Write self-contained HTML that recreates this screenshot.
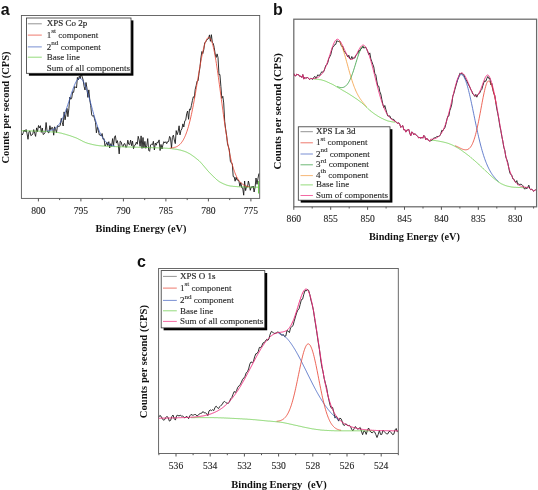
<!DOCTYPE html>
<html><head><meta charset="utf-8"><title>XPS spectra</title>
<style>
html,body{margin:0;padding:0;background:#fff}
svg{display:block;font-family:"Liberation Serif",serif}
</style></head><body>
<svg width="538" height="490" viewBox="0 0 538 490">
<defs>
<clipPath id="ca"><rect x="21.4" y="15.5" width="238.3" height="182.9"/></clipPath>
<clipPath id="cb"><rect x="293.8" y="19.2" width="242.8" height="187.6"/></clipPath>
<clipPath id="cc"><rect x="158.6" y="268.5" width="239.7" height="185.0"/></clipPath>
</defs>
<rect width="538" height="490" fill="#fff"/>
<rect x="21.4" y="15.5" width="238.3" height="182.9" fill="none" stroke="#5a5a5a" stroke-width="0.9"/>
<g clip-path="url(#ca)">
<path d="M21.4,133.8 L22.3,135.0 L23.3,132.6 L24.2,130.0 L25.2,131.8 L26.1,129.5 L27.1,133.9 L28.0,139.3 L29.0,131.6 L29.9,131.0 L30.9,135.7 L31.8,135.1 L32.8,134.0 L33.7,129.6 L34.7,133.4 L35.6,136.4 L36.6,127.9 L37.5,131.6 L38.5,125.5 L39.4,128.0 L40.4,125.7 L41.3,132.4 L42.3,128.0 L43.2,134.5 L44.2,133.9 L45.1,132.4 L46.1,122.5 L47.0,130.6 L48.0,132.4 L48.9,132.9 L49.9,125.7 L50.8,129.8 L51.8,127.4 L52.7,127.7 L53.7,135.2 L54.6,126.8 L55.6,129.5 L56.5,132.6 L57.5,125.6 L58.4,126.6 L59.4,126.4 L60.3,125.1 L61.3,118.4 L62.2,122.3 L63.2,126.0 L64.1,111.9 L65.1,119.8 L66.0,114.3 L67.0,108.4 L67.9,116.7 L68.9,108.5 L69.8,97.1 L70.8,99.3 L71.7,98.2 L72.7,91.8 L73.6,92.4 L74.6,86.5 L75.5,87.0 L76.5,88.0 L77.4,77.4 L78.4,79.8 L79.3,76.2 L80.3,78.5 L81.2,73.3 L82.2,76.8 L83.1,79.9 L84.1,86.5 L85.0,90.0 L86.0,82.5 L86.9,87.9 L87.9,97.4 L88.8,89.9 L89.8,100.1 L90.7,105.4 L91.7,114.9 L92.6,116.2 L93.6,115.5 L94.5,118.7 L95.5,122.4 L96.4,132.8 L97.4,127.2 L98.3,130.1 L99.3,134.9 L100.2,134.8 L101.2,136.0 L102.1,133.5 L103.1,139.3 L104.0,138.5 L105.0,146.0 L105.9,144.6 L106.9,142.3 L107.8,145.6 L108.8,141.7 L109.7,147.9 L110.7,143.7 L111.6,146.3 L112.6,138.6 L113.5,145.6 L114.5,137.1 L115.4,135.7 L116.4,143.1 L117.3,140.6 L118.3,145.1 L119.2,153.9 L120.2,141.0 L121.1,141.9 L122.1,145.4 L123.0,146.6 L124.0,143.8 L124.9,143.7 L125.9,147.5 L126.8,146.7 L127.8,140.2 L128.7,144.2 L129.7,144.7 L130.6,140.1 L131.6,145.7 L132.5,141.0 L133.5,148.7 L134.4,145.4 L135.4,145.0 L136.3,142.2 L137.3,144.2 L138.2,136.3 L139.2,140.0 L140.1,146.3 L141.1,135.9 L142.0,148.4 L143.0,137.5 L143.9,148.1 L144.9,141.4 L145.8,148.3 L146.8,145.6 L147.7,138.6 L148.7,150.4 L149.6,151.3 L150.6,145.0 L151.5,144.1 L152.5,144.7 L153.4,141.3 L154.4,150.0 L155.3,143.1 L156.3,145.2 L157.2,142.1 L158.2,142.7 L159.1,139.9 L160.1,150.5 L161.0,144.5 L162.0,149.0 L162.9,144.9 L163.9,141.7 L164.8,142.9 L165.8,141.7 L166.7,143.7 L167.7,141.6 L168.6,141.5 L169.6,136.4 L170.5,138.2 L171.5,147.9 L172.4,137.4 L173.4,135.1 L174.3,140.0 L175.3,143.6 L176.2,130.6 L177.2,134.7 L178.1,131.8 L179.1,125.8 L180.0,134.9 L181.0,130.2 L181.9,129.0 L182.9,123.9 L183.8,127.0 L184.8,120.8 L185.7,120.2 L186.7,113.8 L187.6,111.0 L188.6,119.3 L189.5,109.1 L190.5,109.8 L191.4,105.5 L192.4,100.6 L193.3,96.8 L194.3,97.6 L195.2,89.4 L196.2,85.4 L197.1,81.1 L198.1,80.8 L199.0,73.4 L200.0,66.9 L200.9,57.9 L201.9,51.5 L202.8,53.6 L203.8,49.5 L204.7,42.9 L205.7,41.9 L206.6,40.4 L207.6,39.1 L208.5,38.6 L209.5,34.9 L210.4,41.3 L211.4,34.7 L212.3,42.3 L213.3,43.5 L214.2,47.5 L215.2,54.1 L216.1,57.5 L217.1,53.9 L218.0,57.6 L219.0,74.9 L219.9,74.5 L220.9,86.5 L221.8,98.3 L222.8,96.3 L223.7,102.9 L224.7,121.3 L225.6,128.7 L226.6,135.3 L227.5,143.9 L228.5,146.9 L229.4,150.3 L230.4,161.4 L231.3,162.8 L232.3,164.0 L233.2,176.5 L234.2,176.9 L235.1,181.2 L236.1,177.2 L237.0,180.1 L238.0,179.8 L238.9,181.1 L239.9,186.3 L240.8,182.6 L241.8,187.8 L242.7,187.9 L243.7,195.2 L244.6,181.0 L245.6,190.6 L246.5,186.6 L247.5,187.0 L248.4,181.0 L249.4,185.2 L250.3,190.3 L251.3,186.8 L252.2,187.5 L253.2,186.0 L254.1,192.0 L255.1,187.1 L256.0,178.0 L257.0,184.3 L257.9,178.9 L258.9,173.5" fill="none" stroke="#1a1a1a" stroke-width="0.9" stroke-linejoin="round"/>
<path d="M21.4,130.8 L21.9,130.8 L22.4,130.8 L22.9,130.8 L23.4,130.8 L23.9,130.8 L24.4,130.8 L24.9,130.8 L25.4,130.8 L25.9,130.8 L26.4,130.8 L26.9,130.9 L27.4,130.9 L27.9,130.9 L28.4,130.9 L28.9,130.9 L29.4,130.9 L29.9,130.9 L30.4,130.9 L30.9,130.9 L31.4,130.9 L31.9,131.0 L32.4,131.0 L32.9,131.0 L33.4,131.0 L33.9,131.0 L34.4,131.0 L34.9,131.0 L35.4,131.1 L35.9,131.1 L36.4,131.1 L36.9,131.1 L37.4,131.1 L37.9,131.1 L38.4,131.1 L38.9,131.2 L39.4,131.2 L39.9,131.2 L40.4,131.2 L40.9,131.2 L41.4,131.2 L41.9,131.3 L42.4,131.3 L42.9,131.3 L43.4,131.3 L43.9,131.4 L44.4,131.4 L44.9,131.4 L45.4,131.4 L45.9,131.5 L46.4,131.5 L46.9,131.5 L47.4,131.6 L47.9,131.6 L48.4,131.6 L48.9,131.7 L49.4,131.7 L49.9,131.7 L50.4,131.8 L50.9,131.8 L51.4,131.9 L51.9,131.9 L52.4,131.9 L52.9,132.0 L53.4,132.0 L53.9,132.1 L54.4,132.1 L54.9,132.2 L55.4,132.2 L55.9,132.3 L56.4,132.3 L56.9,132.4 L57.4,132.5 L57.9,132.5 L58.4,132.6 L58.9,132.7 L59.4,132.8 L59.9,132.9 L60.4,133.0 L60.9,133.1 L61.4,133.2 L61.9,133.3 L62.4,133.5 L62.9,133.6 L63.4,133.8 L63.9,133.9 L64.4,134.0 L64.9,134.2 L65.4,134.3 L65.9,134.5 L66.4,134.6 L66.9,134.8 L67.4,134.9 L67.9,135.1 L68.4,135.2 L68.9,135.4 L69.4,135.5 L69.9,135.7 L70.4,135.8 L70.9,136.0 L71.4,136.2 L71.9,136.4 L72.4,136.5 L72.9,136.7 L73.4,136.9 L73.9,137.1 L74.4,137.3 L74.9,137.4 L75.4,137.6 L75.9,137.8 L76.4,138.0 L76.9,138.3 L77.4,138.5 L77.9,138.7 L78.4,139.0 L78.9,139.2 L79.4,139.5 L79.9,139.8 L80.4,140.0 L80.9,140.3 L81.4,140.5 L81.9,140.8 L82.4,141.1 L82.9,141.3 L83.4,141.6 L83.9,141.8 L84.4,142.0 L84.9,142.2 L85.4,142.5 L85.9,142.7 L86.4,142.8 L86.9,143.0 L87.4,143.2 L87.9,143.3 L88.4,143.5 L88.9,143.6 L89.4,143.7 L89.9,143.9 L90.4,144.0 L90.9,144.1 L91.4,144.2 L91.9,144.4 L92.4,144.5 L92.9,144.6 L93.4,144.7 L93.9,144.8 L94.4,144.9 L94.9,145.0 L95.4,145.1 L95.9,145.2 L96.4,145.3 L96.9,145.4 L97.4,145.4 L97.9,145.5 L98.4,145.6 L98.9,145.6 L99.4,145.7 L99.9,145.8 L100.4,145.8 L100.9,145.8 L101.4,145.9 L101.9,145.9 L102.4,146.0 L102.9,146.0 L103.4,146.0 L103.9,146.1 L104.4,146.1 L104.9,146.1 L105.4,146.2 L105.9,146.2 L106.4,146.2 L106.9,146.2 L107.4,146.3 L107.9,146.3 L108.4,146.3 L108.9,146.3 L109.4,146.4 L109.9,146.4 L110.4,146.4 L110.9,146.4 L111.4,146.5 L111.9,146.5 L112.4,146.5 L112.9,146.5 L113.4,146.5 L113.9,146.6 L114.4,146.6 L114.9,146.6 L115.4,146.6 L115.9,146.6 L116.4,146.7 L116.9,146.7 L117.4,146.7 L117.9,146.7 L118.4,146.7 L118.9,146.7 L119.4,146.7 L119.9,146.8 L120.4,146.8 L120.9,146.8 L121.4,146.8 L121.9,146.8 L122.4,146.8 L122.9,146.8 L123.4,146.9 L123.9,146.9 L124.4,146.9 L124.9,146.9 L125.4,146.9 L125.9,146.9 L126.4,146.9 L126.9,146.9 L127.4,147.0 L127.9,147.0 L128.4,147.0 L128.9,147.0 L129.4,147.0 L129.9,147.0 L130.4,147.0 L130.9,147.0 L131.4,147.1 L131.9,147.1 L132.4,147.1 L132.9,147.1 L133.4,147.1 L133.9,147.1 L134.4,147.1 L134.9,147.2 L135.4,147.2 L135.9,147.2 L136.4,147.2 L136.9,147.2 L137.4,147.2 L137.9,147.2 L138.4,147.3 L138.9,147.3 L139.4,147.3 L139.9,147.3 L140.4,147.3 L140.9,147.3 L141.4,147.3 L141.9,147.4 L142.4,147.4 L142.9,147.4 L143.4,147.4 L143.9,147.4 L144.4,147.4 L144.9,147.4 L145.4,147.5 L145.9,147.5 L146.4,147.5 L146.9,147.5 L147.4,147.5 L147.9,147.5 L148.4,147.5 L148.9,147.6 L149.4,147.6 L149.9,147.6 L150.4,147.6 L150.9,147.6 L151.4,147.6 L151.9,147.7 L152.4,147.7 L152.9,147.7 L153.4,147.7 L153.9,147.7 L154.4,147.7 L154.9,147.8 L155.4,147.8 L155.9,147.8 L156.4,147.8 L156.9,147.8 L157.4,147.8 L157.9,147.9 L158.4,147.9 L158.9,147.9 L159.4,147.9 L159.9,147.9 L160.4,147.9 L160.9,148.0 L161.4,148.0 L161.9,148.0 L162.4,148.0 L162.9,148.0 L163.4,148.1 L163.9,148.1 L164.4,148.1 L164.9,148.1 L165.4,148.2 L165.9,148.2 L166.4,148.2 L166.9,148.3 L167.4,148.3 L167.9,148.3 L168.4,148.4 L168.9,148.4 L169.4,148.4 L169.9,148.5 L170.4,148.5 L170.9,148.6 L171.4,148.6 L171.9,148.7 L172.4,148.8 L172.9,148.8 L173.4,148.9 L173.9,148.9 L174.4,149.0 L174.9,149.1 L175.4,149.2 L175.9,149.2 L176.4,149.3 L176.9,149.4 L177.4,149.5 L177.9,149.6 L178.4,149.7 L178.9,149.8 L179.4,149.9 L179.9,150.0 L180.4,150.1 L180.9,150.2 L181.4,150.4 L181.9,150.5 L182.4,150.7 L182.9,150.8 L183.4,151.0 L183.9,151.1 L184.4,151.3 L184.9,151.5 L185.4,151.7 L185.9,151.9 L186.4,152.1 L186.9,152.3 L187.4,152.6 L187.9,152.8 L188.4,153.1 L188.9,153.4 L189.4,153.6 L189.9,153.9 L190.4,154.2 L190.9,154.6 L191.4,154.9 L191.9,155.2 L192.4,155.6 L192.9,155.9 L193.4,156.3 L193.9,156.6 L194.4,157.0 L194.9,157.4 L195.4,157.8 L195.9,158.2 L196.4,158.6 L196.9,159.0 L197.4,159.4 L197.9,159.8 L198.4,160.2 L198.9,160.6 L199.4,161.1 L199.9,161.6 L200.4,162.1 L200.9,162.7 L201.4,163.2 L201.9,163.8 L202.4,164.4 L202.9,164.9 L203.4,165.5 L203.9,166.1 L204.4,166.7 L204.9,167.3 L205.4,167.9 L205.9,168.5 L206.4,169.1 L206.9,169.7 L207.4,170.3 L207.9,170.9 L208.4,171.4 L208.9,172.0 L209.4,172.5 L209.9,173.0 L210.4,173.5 L210.9,174.0 L211.4,174.5 L211.9,175.0 L212.4,175.5 L212.9,176.0 L213.4,176.5 L213.9,177.0 L214.4,177.5 L214.9,178.0 L215.4,178.4 L215.9,178.9 L216.4,179.4 L216.9,179.8 L217.4,180.2 L217.9,180.6 L218.4,181.0 L218.9,181.3 L219.4,181.7 L219.9,182.0 L220.4,182.3 L220.9,182.5 L221.4,182.8 L221.9,183.0 L222.4,183.3 L222.9,183.5 L223.4,183.8 L223.9,184.0 L224.4,184.2 L224.9,184.4 L225.4,184.6 L225.9,184.8 L226.4,185.0 L226.9,185.2 L227.4,185.3 L227.9,185.5 L228.4,185.6 L228.9,185.7 L229.4,185.8 L229.9,185.9 L230.4,186.0 L230.9,186.1 L231.4,186.1 L231.9,186.2 L232.4,186.2 L232.9,186.3 L233.4,186.4 L233.9,186.4 L234.4,186.4 L234.9,186.5 L235.4,186.5 L235.9,186.6 L236.4,186.6 L236.9,186.6 L237.4,186.7 L237.9,186.7 L238.4,186.7 L238.9,186.8 L239.4,186.8 L239.9,186.8 L240.4,186.8 L240.9,186.8 L241.4,186.9 L241.9,186.9 L242.4,186.9 L242.9,186.9 L243.4,186.9 L243.9,187.0 L244.4,187.0 L244.9,187.0 L245.4,187.0 L245.9,187.0 L246.4,187.0 L246.9,187.1 L247.4,187.1 L247.9,187.1 L248.4,187.1 L248.9,187.1 L249.4,187.1 L249.9,187.1 L250.4,187.1 L250.9,187.2 L251.4,187.2 L251.9,187.2 L252.4,187.2 L252.9,187.2 L253.4,187.2 L253.9,187.2 L254.4,187.2 L254.9,187.2 L255.4,187.2 L255.9,187.2 L256.4,187.2 L256.9,187.2 L257.4,187.2 L257.9,187.2 L258.4,187.2 L258.9,187.2 L259.4,187.2" fill="none" stroke="#66cc44" stroke-width="0.8" stroke-linejoin="round"/>
<path d="M46.9,131.0 L47.4,131.0 L47.9,130.9 L48.4,130.9 L48.9,130.8 L49.4,130.7 L49.9,130.6 L50.4,130.5 L50.9,130.4 L51.4,130.2 L51.9,130.1 L52.4,129.9 L52.9,129.7 L53.4,129.4 L53.9,129.1 L54.4,128.9 L54.9,128.5 L55.4,128.2 L55.9,127.8 L56.4,127.3 L56.9,126.8 L57.4,126.3 L57.9,125.7 L58.4,125.1 L58.9,124.5 L59.4,123.8 L59.9,123.1 L60.4,122.3 L60.9,121.4 L61.4,120.6 L61.9,119.6 L62.4,118.6 L62.9,117.6 L63.4,116.5 L63.9,115.4 L64.4,114.2 L64.9,112.9 L65.4,111.6 L65.9,110.2 L66.4,108.8 L66.9,107.4 L67.4,105.9 L67.9,104.4 L68.4,102.9 L68.9,101.4 L69.4,99.8 L69.9,98.3 L70.4,96.7 L70.9,95.2 L71.4,93.6 L71.9,92.1 L72.4,90.7 L72.9,89.3 L73.4,87.9 L73.9,86.6 L74.4,85.3 L74.9,84.2 L75.4,83.1 L75.9,82.1 L76.4,81.2 L76.9,80.4 L77.4,79.7 L77.9,79.2 L78.4,78.8 L78.9,78.5 L79.4,78.3 L79.9,78.3 L80.4,78.4 L80.9,78.6 L81.4,78.9 L81.9,79.4 L82.4,80.0 L82.9,80.7 L83.4,81.6 L83.9,82.5 L84.4,83.6 L84.9,84.8 L85.4,86.0 L85.9,87.4 L86.4,88.8 L86.9,90.3 L87.4,91.8 L87.9,93.4 L88.4,95.1 L88.9,96.8 L89.4,98.5 L89.9,100.3 L90.4,102.1 L90.9,104.0 L91.4,105.8 L91.9,107.6 L92.4,109.5 L92.9,111.3 L93.4,113.1 L93.9,114.8 L94.4,116.6 L94.9,118.3 L95.4,119.9 L95.9,121.6 L96.4,123.1 L96.9,124.6 L97.4,126.1 L97.9,127.5 L98.4,128.8 L98.9,130.1 L99.4,131.3 L99.9,132.5 L100.4,133.5 L100.9,134.6 L101.4,135.5 L101.9,136.4 L102.4,137.3 L102.9,138.1 L103.4,138.8 L103.9,139.5 L104.4,140.2 L104.9,140.8 L105.4,141.3 L105.9,141.8 L106.4,142.3 L106.9,142.7 L107.4,143.1 L107.9,143.5 L108.4,143.8 L108.9,144.1 L109.4,144.4 L109.9,144.6 L110.4,144.9 L110.9,145.1 L111.4,145.3 L111.9,145.4 L112.4,145.6 L112.9,145.7 L113.4,145.8 L113.9,145.9 L114.4,146.0 L114.9,146.1" fill="none" stroke="#3f5fc0" stroke-width="0.8" stroke-linejoin="round"/>
<path d="M169.9,148.0 L170.4,148.0 L170.9,148.0 L171.4,147.9 L171.9,147.9 L172.4,147.8 L172.9,147.7 L173.4,147.7 L173.9,147.6 L174.4,147.4 L174.9,147.3 L175.4,147.2 L175.9,147.0 L176.4,146.8 L176.9,146.5 L177.4,146.3 L177.9,146.0 L178.4,145.6 L178.9,145.2 L179.4,144.8 L179.9,144.4 L180.4,143.9 L180.9,143.3 L181.4,142.7 L181.9,142.0 L182.4,141.3 L182.9,140.5 L183.4,139.7 L183.9,138.7 L184.4,137.7 L184.9,136.6 L185.4,135.5 L185.9,134.2 L186.4,132.9 L186.9,131.5 L187.4,130.0 L187.9,128.4 L188.4,126.7 L188.9,124.9 L189.4,123.0 L189.9,121.1 L190.4,119.0 L190.9,116.8 L191.4,114.6 L191.9,112.2 L192.4,109.8 L192.9,107.3 L193.4,104.7 L193.9,102.0 L194.4,99.2 L194.9,96.4 L195.4,93.5 L195.9,90.6 L196.4,87.6 L196.9,84.6 L197.4,81.6 L197.9,78.6 L198.4,75.6 L198.9,72.6 L199.4,69.7 L199.9,66.8 L200.4,64.0 L200.9,61.2 L201.4,58.6 L201.9,56.1 L202.4,53.7 L202.9,51.4 L203.4,49.2 L203.9,47.2 L204.4,45.4 L204.9,43.7 L205.4,42.2 L205.9,40.9 L206.4,39.8 L206.9,38.9 L207.4,38.2 L207.9,37.8 L208.4,37.5 L208.9,37.4 L209.4,37.6 L209.9,38.0 L210.4,38.6 L210.9,39.5 L211.4,40.6 L211.9,41.9 L212.4,43.5 L212.9,45.4 L213.4,47.4 L213.9,49.7 L214.4,52.1 L214.9,54.8 L215.4,57.6 L215.9,60.5 L216.4,63.7 L216.9,66.9 L217.4,70.3 L217.9,73.8 L218.4,77.3 L218.9,80.9 L219.4,84.6 L219.9,88.3 L220.4,92.0 L220.9,95.7 L221.4,99.5 L221.9,103.2 L222.4,107.0 L222.9,110.7 L223.4,114.4 L223.9,118.0 L224.4,121.6 L224.9,125.1 L225.4,128.5 L225.9,131.8 L226.4,135.0 L226.9,138.2 L227.4,141.2 L227.9,144.1 L228.4,146.9 L228.9,149.6 L229.4,152.2 L229.9,154.6 L230.4,156.9 L230.9,159.1 L231.4,161.2 L231.9,163.1 L232.4,165.0 L232.9,166.7 L233.4,168.4 L233.9,169.9 L234.4,171.4 L234.9,172.7 L235.4,174.0 L235.9,175.1 L236.4,176.2 L236.9,177.2 L237.4,178.1 L237.9,179.0 L238.4,179.8 L238.9,180.5 L239.4,181.2 L239.9,181.8 L240.4,182.3 L240.9,182.8 L241.4,183.3 L241.9,183.7 L242.4,184.0 L242.9,184.4 L243.4,184.7 L243.9,185.0 L244.4,185.2 L244.9,185.5 L245.4,185.7 L245.9,185.8 L246.4,186.0 L246.9,186.1 L247.4,186.3 L247.9,186.4 L248.4,186.5 L248.9,186.6 L249.4,186.7" fill="none" stroke="#e8402f" stroke-width="0.8" stroke-linejoin="round"/>
<path d="M258.6,181 L258.6,193.5" fill="none" stroke="#66cc44" stroke-width="1"/>
</g>
<line x1="38.4" y1="198.4" x2="38.4" y2="201.4" stroke="#555555" stroke-width="1"/>
<text x="38.4" y="214.2" font-size="9.6" text-anchor="middle" fill="#222" stroke="#222" stroke-width="0.1">800</text>
<line x1="80.9" y1="198.4" x2="80.9" y2="201.4" stroke="#555555" stroke-width="1"/>
<text x="80.9" y="214.2" font-size="9.6" text-anchor="middle" fill="#222" stroke="#222" stroke-width="0.1">795</text>
<line x1="123.4" y1="198.4" x2="123.4" y2="201.4" stroke="#555555" stroke-width="1"/>
<text x="123.4" y="214.2" font-size="9.6" text-anchor="middle" fill="#222" stroke="#222" stroke-width="0.1">790</text>
<line x1="165.9" y1="198.4" x2="165.9" y2="201.4" stroke="#555555" stroke-width="1"/>
<text x="165.9" y="214.2" font-size="9.6" text-anchor="middle" fill="#222" stroke="#222" stroke-width="0.1">785</text>
<line x1="208.4" y1="198.4" x2="208.4" y2="201.4" stroke="#555555" stroke-width="1"/>
<text x="208.4" y="214.2" font-size="9.6" text-anchor="middle" fill="#222" stroke="#222" stroke-width="0.1">780</text>
<line x1="250.9" y1="198.4" x2="250.9" y2="201.4" stroke="#555555" stroke-width="1"/>
<text x="250.9" y="214.2" font-size="9.6" text-anchor="middle" fill="#222" stroke="#222" stroke-width="0.1">775</text>
<line x1="59.6" y1="198.4" x2="59.6" y2="200.1" stroke="#555555" stroke-width="1"/>
<line x1="102.2" y1="198.4" x2="102.2" y2="200.1" stroke="#555555" stroke-width="1"/>
<line x1="144.7" y1="198.4" x2="144.7" y2="200.1" stroke="#555555" stroke-width="1"/>
<line x1="187.2" y1="198.4" x2="187.2" y2="200.1" stroke="#555555" stroke-width="1"/>
<line x1="229.7" y1="198.4" x2="229.7" y2="200.1" stroke="#555555" stroke-width="1"/>
<rect x="28.9" y="20.4" width="104.5" height="55.3" fill="#000"/>
<rect x="26.5" y="18.0" width="104.5" height="55.3" fill="#fff" stroke="#333" stroke-width="0.8"/>
<line x1="27.8" y1="23.8" x2="41.8" y2="23.8" stroke="#666" stroke-width="0.7"/>
<text x="46.8" y="26.1" font-size="9.0" fill="#2a2a2a" stroke="#2a2a2a" stroke-width="0.2">XPS Co 2p</text>
<line x1="27.8" y1="35.1" x2="41.8" y2="35.1" stroke="#e8402f" stroke-width="0.7"/>
<text x="46.8" y="38.0" font-size="9.0" fill="#2a2a2a" stroke="#2a2a2a" stroke-width="0.12">1<tspan dy="-4.7" font-size="7.1">st</tspan><tspan dy="4.7"> component</tspan></text>
<line x1="27.8" y1="46.9" x2="41.8" y2="46.9" stroke="#3f5fc0" stroke-width="0.7"/>
<text x="46.8" y="49.8" font-size="9.0" fill="#2a2a2a" stroke="#2a2a2a" stroke-width="0.12">2<tspan dy="-4.7" font-size="7.1">nd</tspan><tspan dy="4.7"> component</tspan></text>
<line x1="27.8" y1="57.2" x2="41.8" y2="57.2" stroke="#66cc44" stroke-width="0.7"/>
<text x="46.8" y="60.1" font-size="9.0" fill="#2a2a2a" stroke="#2a2a2a" stroke-width="0.12">Base line</text>
<text x="46.8" y="70.7" font-size="9.0" fill="#2a2a2a" stroke="#2a2a2a" stroke-width="0.12">Sum of all components</text>
<text x="141" y="232.3" font-size="10.3" font-weight="bold" text-anchor="middle" fill="#111" xml:space="preserve" style="white-space:pre">Binding Energy (eV)</text>
<text transform="translate(8.9,107.5) rotate(-90)" font-size="10.5" font-weight="bold" text-anchor="middle" fill="#111">Counts per second (CPS)</text>
<text x="0.8" y="15.0" font-family="'Liberation Sans', sans-serif" font-size="16" font-weight="bold" fill="#111">a</text>
<rect x="293.8" y="19.2" width="242.8" height="187.6" fill="none" stroke="#6a6a6a" stroke-width="1.25"/>
<g clip-path="url(#cb)">
<path d="M293.8,73.6 L294.8,75.7 L295.8,75.9 L296.8,74.1 L297.8,74.7 L298.8,74.8 L299.8,76.5 L300.8,76.1 L301.8,77.5 L302.8,74.6 L303.8,79.1 L304.8,77.3 L305.8,78.4 L306.8,77.6 L307.8,77.5 L308.8,78.8 L309.8,79.5 L310.8,78.4 L311.8,78.7 L312.8,79.4 L313.8,77.3 L314.8,76.3 L315.8,78.4 L316.8,76.8 L317.8,74.8 L318.8,75.5 L319.8,75.2 L320.8,73.3 L321.8,71.7 L322.8,72.2 L323.8,71.6 L324.8,68.4 L325.8,65.6 L326.8,64.6 L327.8,62.5 L328.8,58.5 L329.8,56.7 L330.8,54.5 L331.8,50.2 L332.8,47.0 L333.8,46.3 L334.8,44.5 L335.8,44.3 L336.8,40.7 L337.8,41.3 L338.8,41.5 L339.8,41.2 L340.8,44.6 L341.8,46.5 L342.8,46.5 L343.8,50.9 L344.8,51.9 L345.8,53.5 L346.8,54.8 L347.8,57.0 L348.8,55.3 L349.8,58.7 L350.8,59.2 L351.8,56.5 L352.8,58.9 L353.8,57.6 L354.8,58.1 L355.8,55.4 L356.8,54.6 L357.8,53.5 L358.8,50.5 L359.8,50.9 L360.8,48.7 L361.8,48.3 L362.8,46.3 L363.8,48.1 L364.8,47.6 L365.8,47.3 L366.8,49.4 L367.8,51.8 L368.8,54.6 L369.8,52.9 L370.8,58.8 L371.8,61.5 L372.8,64.3 L373.8,67.0 L374.8,73.7 L375.8,74.6 L376.8,81.0 L377.8,86.0 L378.8,86.3 L379.8,91.7 L380.8,94.0 L381.8,99.3 L382.8,104.1 L383.8,107.6 L384.8,105.5 L385.8,109.3 L386.8,113.0 L387.8,116.0 L388.8,116.1 L389.8,115.9 L390.8,118.3 L391.8,118.8 L392.8,119.4 L393.8,119.4 L394.8,121.3 L395.8,121.5 L396.8,122.8 L397.8,123.3 L398.8,122.8 L399.8,124.5 L400.8,127.4 L401.8,126.4 L402.8,125.6 L403.8,129.8 L404.8,129.5 L405.8,132.1 L406.8,130.1 L407.8,130.0 L408.8,129.4 L409.8,133.4 L410.8,135.6 L411.8,131.9 L412.8,132.7 L413.8,134.8 L414.8,133.6 L415.8,134.9 L416.8,135.4 L417.8,136.6 L418.8,138.1 L419.8,137.0 L420.8,138.4 L421.8,137.0 L422.8,138.2 L423.8,135.4 L424.8,136.6 L425.8,139.7 L426.8,138.2 L427.8,139.9 L428.8,140.2 L429.8,141.4 L430.8,140.3 L431.8,140.5 L432.8,139.0 L433.8,138.1 L434.8,137.8 L435.8,137.7 L436.8,136.4 L437.8,136.6 L438.8,136.3 L439.8,135.8 L440.8,133.8 L441.8,130.3 L442.8,130.8 L443.8,129.1 L444.8,127.8 L445.8,124.4 L446.8,119.8 L447.8,116.3 L448.8,116.1 L449.8,110.6 L450.8,107.9 L451.8,104.1 L452.8,96.2 L453.8,93.6 L454.8,89.7 L455.8,86.1 L456.8,82.7 L457.8,79.4 L458.8,77.1 L459.8,73.3 L460.8,74.0 L461.8,73.1 L462.8,74.6 L463.8,74.8 L464.8,77.6 L465.8,79.6 L466.8,81.0 L467.8,83.3 L468.8,85.4 L469.8,87.1 L470.8,89.6 L471.8,91.2 L472.8,94.0 L473.8,94.8 L474.8,96.4 L475.8,94.4 L476.8,97.2 L477.8,94.6 L478.8,93.7 L479.8,92.9 L480.8,90.5 L481.8,89.4 L482.8,85.8 L483.8,82.7 L484.8,80.7 L485.8,81.4 L486.8,78.5 L487.8,76.5 L488.8,78.5 L489.8,78.1 L490.8,84.7 L491.8,83.5 L492.8,89.5 L493.8,93.6 L494.8,95.6 L495.8,102.7 L496.8,108.9 L497.8,113.7 L498.8,119.2 L499.8,125.8 L500.8,130.5 L501.8,136.3 L502.8,141.1 L503.8,147.3 L504.8,150.2 L505.8,157.0 L506.8,159.6 L507.8,162.7 L508.8,168.0 L509.8,172.8 L510.8,174.6 L511.8,175.2 L512.8,178.8 L513.8,179.1 L514.8,181.0 L515.8,182.5 L516.8,180.6 L517.8,184.6 L518.8,183.8 L519.8,184.7 L520.8,184.2 L521.8,184.6 L522.8,185.6 L523.8,188.0 L524.8,189.2 L525.8,187.3 L526.8,188.8 L527.8,187.2 L528.8,185.2 L529.8,188.8 L530.8,189.7 L531.8,189.1 L532.8,190.5 L533.8,191.3 L534.8,190.1 L535.8,189.8" fill="none" stroke="#1a1a1a" stroke-width="0.9" stroke-linejoin="round"/>
<path d="M339.0,41.0 L339.5,41.6 L340.0,42.4 L340.5,43.3 L341.0,44.3 L341.5,45.5 L342.0,46.7 L342.5,48.0 L343.0,49.5 L343.5,51.0 L344.0,52.6 L344.5,54.2 L345.0,55.9 L345.5,57.7 L346.0,59.5 L346.5,61.3 L347.0,63.1 L347.5,64.9 L348.0,66.8 L348.5,68.6 L349.0,70.4 L349.5,72.2 L350.0,73.9 L350.5,75.6 L351.0,77.3 L351.5,78.9 L352.0,80.5 L352.5,82.1 L353.0,83.5 L353.5,84.9 L354.0,86.3 L354.5,87.6 L355.0,88.8 L355.5,90.0 L356.0,91.2 L356.5,92.2 L357.0,93.3 L357.5,94.2 L358.0,95.2 L358.5,96.1 L359.0,96.9 L359.5,97.7 L360.0,98.5 L360.5,99.2 L361.0,99.9 L361.5,100.6 L362.0,101.3 L362.5,101.9 L363.0,102.6 L363.5,103.2 L364.0,103.8 L364.5,104.4 L365.0,105.0 L365.5,105.6 L366.0,106.2 L366.5,106.8" fill="none" stroke="#f29a3c" stroke-width="0.8" stroke-linejoin="round"/>
<path d="M337.0,86.5 L337.5,86.7 L338.0,86.9 L338.5,87.0 L339.0,87.2 L339.5,87.3 L340.0,87.5 L340.5,87.5 L341.0,87.6 L341.5,87.6 L342.0,87.6 L342.5,87.5 L343.0,87.4 L343.5,87.3 L344.0,87.1 L344.5,86.8 L345.0,86.5 L345.5,86.2 L346.0,85.7 L346.5,85.2 L347.0,84.7 L347.5,84.0 L348.0,83.3 L348.5,82.6 L349.0,81.7 L349.5,80.7 L350.0,79.7 L350.5,78.6 L351.0,77.5 L351.5,76.2 L352.0,74.9 L352.5,73.5 L353.0,72.1 L353.5,70.6 L354.0,69.0 L354.5,67.4 L355.0,65.8 L355.5,64.2 L356.0,62.5 L356.5,60.9 L357.0,59.3 L357.5,57.7 L358.0,56.2 L358.5,54.7 L359.0,53.3 L359.5,52.0 L360.0,50.8 L360.5,49.7 L361.0,48.7 L361.5,47.9 L362.0,47.2 L362.5,46.7 L363.0,46.4 L363.5,46.3 L364.0,46.3" fill="none" stroke="#2f9a3a" stroke-width="0.8" stroke-linejoin="round"/>
<path d="M456.6,82.7 L457.1,81.2 L457.6,79.8 L458.1,78.5 L458.6,77.4 L459.1,76.5 L459.6,75.7 L460.1,75.1 L460.6,74.7 L461.1,74.6 L461.6,74.6 L462.1,74.8 L462.6,75.2 L463.1,75.7 L463.6,76.4 L464.1,77.2 L464.6,78.2 L465.1,79.3 L465.6,80.6 L466.1,81.9 L466.6,83.4 L467.1,85.1 L467.6,86.8 L468.1,88.6 L468.6,90.5 L469.1,92.6 L469.6,94.7 L470.1,96.8 L470.6,99.1 L471.1,101.3 L471.6,103.7 L472.1,106.0 L472.6,108.4 L473.1,110.9 L473.6,113.3 L474.1,115.7 L474.6,118.2 L475.1,120.6 L475.6,123.0 L476.1,125.4 L476.6,127.7 L477.1,130.0 L477.6,132.3 L478.1,134.6 L478.6,136.8 L479.1,138.9 L479.6,141.0 L480.1,143.0 L480.6,145.0 L481.1,146.9 L481.6,148.7 L482.1,150.5 L482.6,152.2 L483.1,153.9 L483.6,155.5 L484.1,157.0 L484.6,158.5 L485.1,159.9 L485.6,161.2 L486.1,162.5 L486.6,163.7 L487.1,164.9 L487.6,166.1 L488.1,167.1 L488.6,168.2 L489.1,169.2 L489.6,170.1 L490.1,171.0 L490.6,171.9 L491.1,172.8 L491.6,173.5 L492.1,174.3 L492.6,175.0 L493.1,175.7 L493.6,176.3 L494.1,177.0 L494.6,177.5 L495.1,178.1 L495.6,178.7 L496.1,179.2 L496.6,179.7 L497.1,180.2 L497.6,180.7 L498.1,181.1 L498.6,181.6" fill="none" stroke="#3f5fc0" stroke-width="0.8" stroke-linejoin="round"/>
<path d="M455.1,145.6 L455.6,145.9 L456.1,146.1 L456.6,146.4 L457.1,146.6 L457.6,146.8 L458.1,147.1 L458.6,147.3 L459.1,147.6 L459.6,147.8 L460.1,148.1 L460.6,148.3 L461.1,148.5 L461.6,148.8 L462.1,149.0 L462.6,149.2 L463.1,149.3 L463.6,149.5 L464.1,149.6 L464.6,149.7 L465.1,149.8 L465.6,149.8 L466.1,149.8 L466.6,149.7 L467.1,149.6 L467.6,149.5 L468.1,149.2 L468.6,148.9 L469.1,148.6 L469.6,148.1 L470.1,147.6 L470.6,147.0 L471.1,146.2 L471.6,145.4 L472.1,144.5 L472.6,143.4 L473.1,142.2 L473.6,140.9 L474.1,139.5 L474.6,137.9 L475.1,136.3 L475.6,134.5 L476.1,132.5 L476.6,130.5 L477.1,128.3 L477.6,126.1 L478.1,123.7 L478.6,121.3 L479.1,118.7 L479.6,116.1 L480.1,113.5 L480.6,110.8 L481.1,108.1 L481.6,105.4 L482.1,102.7 L482.6,100.1 L483.1,97.5 L483.6,95.0 L484.1,92.7 L484.6,90.5 L485.1,88.4 L485.6,86.6 L486.1,84.9 L486.6,83.5 L487.1,82.4 L487.6,81.6 L488.1,81.1 L488.6,81.0 L489.1,81.1 L489.6,81.6 L490.1,82.3 L490.6,83.2 L491.1,84.2 L491.6,85.5 L492.1,86.9 L492.6,88.5 L493.1,90.2 L493.6,92.1 L494.1,94.2 L494.6,96.4 L495.1,98.7 L495.6,101.1 L496.1,103.6" fill="none" stroke="#e8402f" stroke-width="0.8" stroke-linejoin="round"/>
<path d="M314.0,79.0 L314.5,79.0 L315.0,79.0 L315.5,79.1 L316.0,79.1 L316.5,79.2 L317.0,79.2 L317.5,79.3 L318.0,79.4 L318.5,79.4 L319.0,79.5 L319.5,79.6 L320.0,79.6 L320.5,79.7 L321.0,79.8 L321.5,79.9 L322.0,80.0 L322.5,80.2 L323.0,80.3 L323.5,80.5 L324.0,80.6 L324.5,80.8 L325.0,81.0 L325.5,81.2 L326.0,81.4 L326.5,81.6 L327.0,81.9 L327.5,82.1 L328.0,82.3 L328.5,82.5 L329.0,82.8 L329.5,83.0 L330.0,83.2 L330.5,83.5 L331.0,83.7 L331.5,83.9 L332.0,84.2 L332.5,84.4 L333.0,84.7 L333.5,84.9 L334.0,85.2 L334.5,85.5 L335.0,85.8 L335.5,86.1 L336.0,86.4 L336.5,86.7 L337.0,86.9 L337.5,87.2 L338.0,87.5 L338.5,87.8 L339.0,88.1 L339.5,88.4 L340.0,88.7 L340.5,89.0 L341.0,89.3 L341.5,89.6 L342.0,89.9 L342.5,90.2 L343.0,90.5 L343.5,90.8 L344.0,91.1 L344.5,91.3 L345.0,91.6 L345.5,91.9 L346.0,92.2 L346.5,92.5 L347.0,92.8 L347.5,93.1 L348.0,93.4 L348.5,93.7 L349.0,94.0 L349.5,94.3 L350.0,94.7 L350.5,95.0 L351.0,95.3 L351.5,95.6 L352.0,95.9 L352.5,96.3 L353.0,96.6 L353.5,96.9 L354.0,97.3 L354.5,97.6 L355.0,97.9 L355.5,98.3 L356.0,98.6 L356.5,98.9 L357.0,99.3 L357.5,99.6 L358.0,100.0 L358.5,100.4 L359.0,100.7 L359.5,101.1 L360.0,101.5 L360.5,101.9 L361.0,102.2 L361.5,102.6 L362.0,103.1 L362.5,103.5 L363.0,103.9 L363.5,104.4 L364.0,104.8 L364.5,105.3 L365.0,105.8 L365.5,106.3 L366.0,106.8 L366.5,107.2 L367.0,107.7 L367.5,108.2 L368.0,108.7 L368.5,109.1 L369.0,109.6 L369.5,110.0 L370.0,110.5 L370.5,110.9 L371.0,111.3 L371.5,111.7 L372.0,112.1 L372.5,112.4 L373.0,112.8 L373.5,113.2 L374.0,113.5 L374.5,113.9 L375.0,114.2 L375.5,114.6 L376.0,114.9 L376.5,115.2 L377.0,115.6 L377.5,115.9 L378.0,116.2 L378.5,116.5 L379.0,116.8 L379.5,117.1 L380.0,117.4 L380.5,117.6 L381.0,117.9 L381.5,118.2 L382.0,118.4 L382.5,118.6 L383.0,118.9 L383.5,119.1 L384.0,119.3 L384.5,119.6 L385.0,119.8 L385.5,120.0 L386.0,120.2 L386.5,120.4 L387.0,120.6 L387.5,120.8 L388.0,120.9 L388.5,121.1 L389.0,121.2 L389.5,121.3 L390.0,121.4 L390.5,121.5 L391.0,121.6 L391.5,121.7 L392.0,121.8 L392.5,121.9 L393.0,122.0 L393.5,122.0 L394.0,122.1 L394.5,122.1 L395.0,122.2 L395.5,122.2" fill="none" stroke="#66cc44" stroke-width="0.8" stroke-linejoin="round"/>
<path d="M430.6,140.0 L431.1,140.0 L431.6,140.1 L432.1,140.2 L432.6,140.2 L433.1,140.3 L433.6,140.3 L434.1,140.4 L434.6,140.5 L435.1,140.5 L435.6,140.6 L436.1,140.7 L436.6,140.8 L437.1,140.9 L437.6,140.9 L438.1,141.0 L438.6,141.1 L439.1,141.2 L439.6,141.3 L440.1,141.4 L440.6,141.5 L441.1,141.6 L441.6,141.7 L442.1,141.8 L442.6,141.9 L443.1,142.0 L443.6,142.1 L444.1,142.2 L444.6,142.4 L445.1,142.5 L445.6,142.6 L446.1,142.7 L446.6,142.9 L447.1,143.0 L447.6,143.2 L448.1,143.3 L448.6,143.5 L449.1,143.7 L449.6,143.9 L450.1,144.1 L450.6,144.3 L451.1,144.5 L451.6,144.7 L452.1,144.9 L452.6,145.2 L453.1,145.4 L453.6,145.7 L454.1,145.9 L454.6,146.2 L455.1,146.5 L455.6,146.7 L456.1,147.0 L456.6,147.3 L457.1,147.6 L457.6,147.8 L458.1,148.1 L458.6,148.4 L459.1,148.7 L459.6,149.1 L460.1,149.4 L460.6,149.7 L461.1,150.1 L461.6,150.4 L462.1,150.8 L462.6,151.1 L463.1,151.5 L463.6,151.9 L464.1,152.2 L464.6,152.6 L465.1,153.0 L465.6,153.3 L466.1,153.7 L466.6,154.1 L467.1,154.5 L467.6,154.8 L468.1,155.2 L468.6,155.6 L469.1,156.0 L469.6,156.4 L470.1,156.8 L470.6,157.3 L471.1,157.7 L471.6,158.1 L472.1,158.5 L472.6,158.9 L473.1,159.4 L473.6,159.8 L474.1,160.2 L474.6,160.7 L475.1,161.1 L475.6,161.5 L476.1,162.0 L476.6,162.4 L477.1,162.9 L477.6,163.3 L478.1,163.8 L478.6,164.2 L479.1,164.7 L479.6,165.2 L480.1,165.6 L480.6,166.1 L481.1,166.6 L481.6,167.1 L482.1,167.5 L482.6,168.0 L483.1,168.5 L483.6,169.0 L484.1,169.4 L484.6,169.9 L485.1,170.4 L485.6,170.8 L486.1,171.3 L486.6,171.7 L487.1,172.2 L487.6,172.7 L488.1,173.2 L488.6,173.6 L489.1,174.1 L489.6,174.6 L490.1,175.1 L490.6,175.5 L491.1,176.0 L491.6,176.4 L492.1,176.9 L492.6,177.3 L493.1,177.8 L493.6,178.2 L494.1,178.6 L494.6,179.0 L495.1,179.4 L495.6,179.8 L496.1,180.2 L496.6,180.6 L497.1,181.0 L497.6,181.4 L498.1,181.7 L498.6,182.1 L499.1,182.4 L499.6,182.7 L500.1,183.1 L500.6,183.3 L501.1,183.6 L501.6,183.9 L502.1,184.1 L502.6,184.3 L503.1,184.6 L503.6,184.8 L504.1,185.0 L504.6,185.2 L505.1,185.4 L505.6,185.6 L506.1,185.7 L506.6,185.9 L507.1,186.0 L507.6,186.2 L508.1,186.3 L508.6,186.4 L509.1,186.5 L509.6,186.6 L510.1,186.7 L510.6,186.8 L511.1,186.9 L511.6,187.0 L512.1,187.1 L512.6,187.1 L513.1,187.2 L513.6,187.2 L514.1,187.2 L514.6,187.3 L515.1,187.3 L515.6,187.3 L516.1,187.4 L516.6,187.4 L517.1,187.4 L517.6,187.4 L518.1,187.5 L518.6,187.5 L519.1,187.5 L519.6,187.5 L520.1,187.5 L520.6,187.5 L521.1,187.6 L521.6,187.6 L522.1,187.6 L522.6,187.6 L523.1,187.6 L523.6,187.6 L524.1,187.6 L524.6,187.6" fill="none" stroke="#66cc44" stroke-width="0.8" stroke-linejoin="round"/>
<path d="M293.8,73.6 L294.8,75.7 L295.8,75.9 L296.8,74.1 L297.8,74.7 L298.8,74.8 L299.8,76.5 L300.8,76.1 L301.8,77.5 L302.8,74.6 L303.8,79.1 L304.8,77.3 L305.8,78.4 L306.8,77.6 L307.8,77.5 L308.8,78.8 L309.8,79.5 L310.8,78.4 L311.8,78.7 L312.0,78.7 L312.5,78.6 L313.0,78.6 L313.5,78.5 L314.0,78.5 L314.5,78.4 L315.0,78.3 L315.5,78.2 L316.0,78.1 L316.5,78.0 L317.0,77.8 L317.5,77.6 L318.0,77.4 L318.5,77.1 L319.0,76.8 L319.5,76.4 L320.0,76.0 L320.5,75.5 L321.0,75.0 L321.5,74.4 L322.0,73.8 L322.5,73.1 L323.0,72.3 L323.5,71.4 L324.0,70.5 L324.5,69.6 L325.0,68.5 L325.5,67.4 L326.0,66.1 L326.5,64.9 L327.0,63.5 L327.5,62.1 L328.0,60.6 L328.5,59.1 L329.0,57.6 L329.5,56.0 L330.0,54.4 L330.5,52.8 L331.0,51.2 L331.5,49.6 L332.0,48.1 L332.5,46.7 L333.0,45.4 L333.5,44.1 L334.0,43.0 L334.5,42.0 L335.0,41.1 L335.5,40.4 L336.0,39.9 L336.5,39.5 L337.0,39.3 L337.5,39.2 L338.0,39.4 L338.5,39.6 L339.0,40.0 L339.5,40.5 L340.0,41.1 L340.5,41.8 L341.0,42.6 L341.5,43.5 L342.0,44.4 L342.5,45.4 L343.0,46.4 L343.5,47.5 L344.0,48.6 L344.5,49.7 L345.0,50.8 L345.5,51.9 L346.0,53.0 L346.5,54.0 L347.0,55.0 L347.5,55.9 L348.0,56.7 L348.5,57.4 L349.0,58.0 L349.5,58.6 L350.0,59.0 L350.5,59.3 L351.0,59.5 L351.5,59.5 L352.0,59.5 L352.5,59.3 L353.0,59.0 L353.5,58.6 L354.0,58.1 L354.5,57.4 L355.0,56.7 L355.5,55.9 L356.0,55.1 L356.5,54.2 L357.0,53.3 L357.5,52.3 L358.0,51.3 L358.5,50.4 L359.0,49.5 L359.5,48.6 L360.0,47.8 L360.5,47.0 L361.0,46.4 L361.5,45.9 L362.0,45.5 L362.5,45.2 L363.0,45.1 L363.5,45.1 L364.0,45.3 L364.5,45.7 L365.0,46.2 L365.5,46.9 L366.0,47.7 L366.5,48.6 L367.0,49.7 L367.5,50.8 L368.0,52.0 L368.5,53.4 L369.0,54.8 L369.5,56.4 L370.0,58.0 L370.5,59.6 L371.0,61.4 L371.5,63.2 L372.0,65.0 L372.5,66.9 L373.0,68.8 L373.5,70.8 L374.0,72.8 L374.5,74.8 L375.0,76.9 L375.5,78.9 L376.0,80.9 L376.5,82.9 L377.0,84.9 L377.5,86.9 L378.0,88.8 L378.5,90.7 L379.0,92.5 L379.5,94.3 L380.0,96.1 L380.5,97.7 L381.0,99.3 L381.5,100.9 L382.0,102.4 L382.5,103.8 L383.0,105.2 L383.5,106.5 L384.0,107.7 L384.5,108.9 L385.0,110.1 L385.5,111.1 L386.0,112.1 L386.5,113.0 L387.0,113.9 L387.5,114.7 L388.0,115.5 L388.5,116.2 L389.0,116.8 L389.5,117.4 L390.0,117.9 L390.5,118.3 L391.0,118.8 L391.5,119.2 L392.0,119.6 L392.5,119.9 L393.0,120.2 L393.5,120.5 L394.0,120.7 L394.5,120.9 L395.0,121.1 L395.5,121.3 L396.8,122.8 L397.8,123.3 L398.8,122.8 L399.8,124.5 L400.8,127.4 L401.8,126.4 L402.8,125.6 L403.8,129.8 L404.8,129.5 L405.8,132.1 L406.8,130.1 L407.8,130.0 L408.8,129.4 L409.8,133.4 L410.8,135.6 L411.8,131.9 L412.8,132.7 L413.8,134.8 L414.8,133.6 L415.8,134.9 L416.8,135.4 L417.8,136.6 L418.8,138.1 L419.8,137.0 L420.8,138.4 L421.8,137.0 L422.8,138.2 L423.8,135.4 L424.8,136.6 L425.8,139.7 L426.8,138.2 L427.8,139.9 L428.8,140.2 L429.8,141.4 L430.6,139.3 L431.1,139.3 L431.6,139.2 L432.1,139.2 L432.6,139.1 L433.1,139.0 L433.6,139.0 L434.1,138.8 L434.6,138.7 L435.1,138.6 L435.6,138.4 L436.1,138.2 L436.6,137.9 L437.1,137.6 L437.6,137.3 L438.1,137.0 L438.6,136.5 L439.1,136.1 L439.6,135.6 L440.1,135.0 L440.6,134.4 L441.1,133.7 L441.6,132.9 L442.1,132.1 L442.6,131.2 L443.1,130.2 L443.6,129.1 L444.1,128.0 L444.6,126.7 L445.1,125.4 L445.6,124.0 L446.1,122.5 L446.6,121.0 L447.1,119.3 L447.6,117.6 L448.1,115.8 L448.6,113.9 L449.1,112.0 L449.6,110.0 L450.1,108.0 L450.6,105.9 L451.1,103.8 L451.6,101.7 L452.1,99.6 L452.6,97.4 L453.1,95.3 L453.6,93.2 L454.1,91.2 L454.6,89.1 L455.1,87.2 L455.6,85.3 L456.1,83.5 L456.6,81.8 L457.1,80.2 L457.6,78.8 L458.1,77.4 L458.6,76.3 L459.1,75.3 L459.6,74.4 L460.1,73.8 L460.6,73.3 L461.1,73.0 L461.6,72.9 L462.1,73.0 L462.6,73.2 L463.1,73.6 L463.6,74.1 L464.1,74.7 L464.6,75.4 L465.1,76.2 L465.6,77.1 L466.1,78.1 L466.6,79.1 L467.1,80.2 L467.6,81.4 L468.1,82.6 L468.6,83.8 L469.1,85.1 L469.6,86.3 L470.1,87.6 L470.6,88.7 L471.1,89.9 L471.6,91.0 L472.1,92.0 L472.6,92.9 L473.1,93.7 L473.6,94.4 L474.1,95.0 L474.6,95.4 L475.1,95.8 L475.6,95.9 L476.1,95.9 L476.6,95.8 L477.1,95.5 L477.6,95.1 L478.1,94.5 L478.6,93.8 L479.1,92.9 L479.6,91.9 L480.1,90.8 L480.6,89.7 L481.1,88.4 L481.6,87.1 L482.1,85.7 L482.6,84.3 L483.1,82.9 L483.6,81.6 L484.1,80.3 L484.6,79.1 L485.1,77.9 L485.6,77.0 L486.1,76.2 L486.6,75.5 L487.1,75.1 L487.6,75.0 L488.1,75.1 L488.6,75.5 L489.1,76.2 L489.6,77.2 L490.1,78.3 L490.6,79.6 L491.1,81.0 L491.6,82.6 L492.1,84.3 L492.6,86.2 L493.1,88.2 L493.6,90.3 L494.1,92.6 L494.6,94.9 L495.1,97.4 L495.6,100.0 L496.1,102.7 L496.6,105.4 L497.1,108.2 L497.6,111.1 L498.1,114.0 L498.6,117.0 L499.1,119.9 L499.6,122.9 L500.1,125.8 L500.6,128.7 L501.1,131.6 L501.6,134.4 L502.1,137.3 L502.6,140.0 L503.1,142.7 L503.6,145.4 L504.1,147.9 L504.6,150.4 L505.1,152.8 L505.6,155.1 L506.1,157.3 L506.6,159.5 L507.1,161.5 L507.6,163.4 L508.1,165.2 L508.6,167.0 L509.1,168.6 L509.6,170.2 L510.1,171.7 L510.6,173.0 L511.1,174.3 L511.6,175.5 L512.1,176.6 L512.6,177.7 L513.1,178.6 L513.6,179.5 L514.1,180.3 L514.6,181.0 L515.1,181.7 L515.6,182.3 L516.1,182.8 L516.6,183.3 L517.1,183.8 L517.6,184.2 L518.1,184.6 L518.6,185.0 L519.1,185.3 L519.6,185.6 L520.1,185.8 L520.6,186.0 L521.1,186.2 L521.6,186.4 L522.1,186.6 L522.6,186.7 L523.1,186.8 L523.6,187.0 L524.1,187.1 L524.6,187.1 L525.1,187.2 L525.6,187.3 L526.1,187.4 L526.6,187.4 L527.1,187.5 L527.6,187.5 L528.1,187.5 L528.6,187.6 L529.8,188.8 L530.8,189.7 L531.8,189.1 L532.8,190.5 L533.8,191.3 L534.8,190.1 L535.8,189.8" fill="none" stroke="#ee2a7b" stroke-width="0.85" stroke-linejoin="round"/>
</g>
<line x1="293.8" y1="206.8" x2="293.8" y2="209.8" stroke="#555555" stroke-width="1"/>
<text x="293.8" y="221.9" font-size="9.6" text-anchor="middle" fill="#222" stroke="#222" stroke-width="0.1">860</text>
<line x1="330.7" y1="206.8" x2="330.7" y2="209.8" stroke="#555555" stroke-width="1"/>
<text x="330.7" y="221.9" font-size="9.6" text-anchor="middle" fill="#222" stroke="#222" stroke-width="0.1">855</text>
<line x1="367.6" y1="206.8" x2="367.6" y2="209.8" stroke="#555555" stroke-width="1"/>
<text x="367.6" y="221.9" font-size="9.6" text-anchor="middle" fill="#222" stroke="#222" stroke-width="0.1">850</text>
<line x1="404.5" y1="206.8" x2="404.5" y2="209.8" stroke="#555555" stroke-width="1"/>
<text x="404.5" y="221.9" font-size="9.6" text-anchor="middle" fill="#222" stroke="#222" stroke-width="0.1">845</text>
<line x1="441.4" y1="206.8" x2="441.4" y2="209.8" stroke="#555555" stroke-width="1"/>
<text x="441.4" y="221.9" font-size="9.6" text-anchor="middle" fill="#222" stroke="#222" stroke-width="0.1">840</text>
<line x1="478.3" y1="206.8" x2="478.3" y2="209.8" stroke="#555555" stroke-width="1"/>
<text x="478.3" y="221.9" font-size="9.6" text-anchor="middle" fill="#222" stroke="#222" stroke-width="0.1">835</text>
<line x1="515.2" y1="206.8" x2="515.2" y2="209.8" stroke="#555555" stroke-width="1"/>
<text x="515.2" y="221.9" font-size="9.6" text-anchor="middle" fill="#222" stroke="#222" stroke-width="0.1">830</text>
<line x1="312.2" y1="206.8" x2="312.2" y2="208.5" stroke="#555555" stroke-width="1"/>
<line x1="349.2" y1="206.8" x2="349.2" y2="208.5" stroke="#555555" stroke-width="1"/>
<line x1="386.1" y1="206.8" x2="386.1" y2="208.5" stroke="#555555" stroke-width="1"/>
<line x1="423.0" y1="206.8" x2="423.0" y2="208.5" stroke="#555555" stroke-width="1"/>
<line x1="459.9" y1="206.8" x2="459.9" y2="208.5" stroke="#555555" stroke-width="1"/>
<line x1="496.8" y1="206.8" x2="496.8" y2="208.5" stroke="#555555" stroke-width="1"/>
<line x1="533.6" y1="206.8" x2="533.6" y2="208.5" stroke="#555555" stroke-width="1"/>
<rect x="300.7" y="129.2" width="91.7" height="73.4" fill="#000"/>
<rect x="298.3" y="126.8" width="91.7" height="73.4" fill="#fff" stroke="#333" stroke-width="0.8"/>
<line x1="300.5" y1="131.7" x2="312.9" y2="131.7" stroke="#666" stroke-width="0.7"/>
<text x="316.0" y="133.6" font-size="9.0" fill="#2a2a2a" stroke="#2a2a2a" stroke-width="0.2">XPS La 3d</text>
<line x1="300.5" y1="142.8" x2="312.9" y2="142.8" stroke="#e8402f" stroke-width="0.7"/>
<text x="316.0" y="145.3" font-size="9.0" fill="#2a2a2a" stroke="#2a2a2a" stroke-width="0.12">1<tspan dy="-4.7" font-size="7.1">st</tspan><tspan dy="4.7"> component</tspan></text>
<line x1="300.5" y1="154.0" x2="312.9" y2="154.0" stroke="#3f5fc0" stroke-width="0.7"/>
<text x="316.0" y="156.5" font-size="9.0" fill="#2a2a2a" stroke="#2a2a2a" stroke-width="0.12">2<tspan dy="-4.7" font-size="7.1">nd</tspan><tspan dy="4.7"> component</tspan></text>
<line x1="300.5" y1="164.8" x2="312.9" y2="164.8" stroke="#2f9a3a" stroke-width="0.7"/>
<text x="316.0" y="167.3" font-size="9.0" fill="#2a2a2a" stroke="#2a2a2a" stroke-width="0.12">3<tspan dy="-4.7" font-size="7.1">rd</tspan><tspan dy="4.7"> component</tspan></text>
<line x1="300.5" y1="175.6" x2="312.9" y2="175.6" stroke="#f29a3c" stroke-width="0.7"/>
<text x="316.0" y="178.1" font-size="9.0" fill="#2a2a2a" stroke="#2a2a2a" stroke-width="0.12">4<tspan dy="-4.7" font-size="7.1">th</tspan><tspan dy="4.7"> component</tspan></text>
<line x1="300.5" y1="184.9" x2="312.9" y2="184.9" stroke="#66cc44" stroke-width="0.7"/>
<text x="316.0" y="187.4" font-size="9.0" fill="#2a2a2a" stroke="#2a2a2a" stroke-width="0.12">Base line</text>
<line x1="300.5" y1="195.5" x2="312.9" y2="195.5" stroke="#ee2a7b" stroke-width="0.7"/>
<text x="316.0" y="198.0" font-size="9.0" fill="#2a2a2a" stroke="#2a2a2a" stroke-width="0.12">Sum of components</text>
<text x="414.4" y="239.5" font-size="10.3" font-weight="bold" text-anchor="middle" fill="#111" xml:space="preserve" style="white-space:pre">Binding Energy (eV)</text>
<text transform="translate(281.2,111.3) rotate(-90)" font-size="10.9" font-weight="bold" text-anchor="middle" fill="#111">Counts per second (CPS)</text>
<text x="273.0" y="14.6" font-family="'Liberation Sans', sans-serif" font-size="16" font-weight="bold" fill="#111">b</text>
<rect x="158.6" y="268.5" width="239.7" height="185.0" fill="none" stroke="#5a5a5a" stroke-width="0.9"/>
<g clip-path="url(#cc)">
<path d="M158.6,417.3 L159.8,415.5 L161.0,416.2 L162.2,418.4 L163.4,420.2 L164.6,419.7 L165.8,417.5 L167.0,416.3 L168.2,417.9 L169.4,421.1 L170.6,420.4 L171.8,416.6 L173.0,415.0 L174.2,418.6 L175.4,420.1 L176.6,415.7 L177.8,415.3 L179.0,416.0 L180.2,415.2 L181.4,416.1 L182.6,415.9 L183.8,417.2 L185.0,418.0 L186.2,416.4 L187.4,416.9 L188.6,418.7 L189.8,415.9 L191.0,414.4 L192.2,415.1 L193.4,415.1 L194.6,414.5 L195.8,414.6 L197.0,416.0 L198.2,415.3 L199.4,413.8 L200.6,413.4 L201.8,413.1 L203.0,411.5 L204.2,412.9 L205.4,412.8 L206.6,413.6 L207.8,415.6 L209.0,411.0 L210.2,409.9 L211.4,410.6 L212.6,409.7 L213.8,410.6 L215.0,407.3 L216.2,406.2 L217.4,407.7 L218.6,408.5 L219.8,406.5 L221.0,405.3 L222.2,404.5 L223.4,402.1 L224.6,401.4 L225.8,402.6 L227.0,403.3 L228.2,403.3 L229.4,402.2 L230.6,398.8 L231.8,397.6 L233.0,394.3 L234.2,391.5 L235.4,392.5 L236.6,390.4 L237.8,387.2 L239.0,385.9 L240.2,384.6 L241.4,382.2 L242.6,379.3 L243.8,378.0 L245.0,376.3 L246.2,372.8 L247.4,371.7 L248.6,369.0 L249.8,364.1 L251.0,361.9 L252.2,362.6 L253.4,361.6 L254.6,356.9 L255.8,353.8 L257.0,353.5 L258.2,351.6 L259.4,347.4 L260.6,347.6 L261.8,345.9 L263.0,342.9 L264.2,342.7 L265.4,341.0 L266.6,339.4 L267.8,340.4 L269.0,338.6 L270.2,334.1 L271.4,331.4 L272.6,332.0 L273.8,333.3 L275.0,333.4 L276.2,333.0 L277.4,332.1 L278.6,332.3 L279.8,333.0 L281.0,334.8 L282.2,335.2 L283.4,334.6 L284.6,336.6 L285.8,336.0 L287.0,330.5 L288.2,331.2 L289.4,332.6 L290.6,327.7 L291.8,326.7 L293.0,325.7 L294.2,321.1 L295.4,317.1 L296.6,313.0 L297.8,310.1 L299.0,308.8 L300.2,304.3 L301.4,299.6 L302.6,299.2 L303.8,294.4 L305.0,290.5 L306.2,290.9 L307.4,289.6 L308.6,290.3 L309.8,294.5 L311.0,300.4 L312.2,304.7 L313.4,310.1 L314.6,318.4 L315.8,325.9 L317.0,333.8 L318.2,341.9 L319.4,349.3 L320.6,358.9 L321.8,366.7 L323.0,371.7 L324.2,378.5 L325.4,383.3 L326.6,387.6 L327.8,394.9 L329.0,400.6 L330.2,405.6 L331.4,408.2 L332.6,407.4 L333.8,412.5 L335.0,418.1 L336.2,416.1 L337.4,418.2 L338.6,421.1 L339.8,418.2 L341.0,418.7 L342.2,421.4 L343.4,425.0 L344.6,425.4 L345.8,423.7 L347.0,425.1 L348.2,425.6 L349.4,425.3 L350.6,426.6 L351.8,429.7 L353.0,430.7 L354.2,428.5 L355.4,426.5 L356.6,428.3 L357.8,429.2 L359.0,428.5 L360.2,427.5 L361.4,431.1 L362.6,434.7 L363.8,431.1 L365.0,431.3 L366.2,434.4 L367.4,430.3 L368.6,428.0 L369.8,430.7 L371.0,432.3 L372.2,432.8 L373.4,431.7 L374.6,431.8 L375.8,434.5 L377.0,437.5 L378.2,434.4 L379.4,430.4 L380.6,434.5 L381.8,434.4 L383.0,430.2 L384.2,431.5 L385.4,432.8 L386.6,434.0 L387.8,433.9 L389.0,431.4 L390.2,431.5 L391.4,432.9 L392.6,434.6 L393.8,434.2 L395.0,429.9 L396.2,428.5 L397.4,432.1" fill="none" stroke="#1a1a1a" stroke-width="0.9" stroke-linejoin="round"/>
<path d="M278.6,333.5 L279.1,333.6 L279.6,333.7 L280.1,333.8 L280.6,334.0 L281.1,334.2 L281.6,334.4 L282.1,334.6 L282.6,334.9 L283.1,335.2 L283.6,335.5 L284.1,335.9 L284.6,336.3 L285.1,336.7 L285.6,337.1 L286.1,337.6 L286.6,338.1 L287.1,338.6 L287.6,339.2 L288.1,339.7 L288.6,340.3 L289.1,340.9 L289.6,341.6 L290.1,342.2 L290.6,342.9 L291.1,343.6 L291.6,344.3 L292.1,345.1 L292.6,345.8 L293.1,346.6 L293.6,347.4 L294.1,348.2 L294.6,349.0 L295.1,349.8 L295.6,350.7 L296.1,351.5 L296.6,352.4 L297.1,353.3 L297.6,354.2 L298.1,355.1 L298.6,356.0 L299.1,357.0 L299.6,357.9 L300.1,358.9 L300.6,359.8 L301.1,360.8 L301.6,361.8 L302.1,362.8 L302.6,363.8 L303.1,364.8 L303.6,365.8 L304.1,366.8 L304.6,367.8 L305.1,368.8 L305.6,369.8 L306.1,370.8 L306.6,371.8 L307.1,372.9 L307.6,373.9 L308.1,374.9 L308.6,375.9 L309.1,376.9 L309.6,377.9 L310.1,378.9 L310.6,379.9 L311.1,380.9 L311.6,381.9 L312.1,382.9 L312.6,383.9 L313.1,384.9 L313.6,385.8 L314.1,386.8 L314.6,387.8 L315.1,388.7 L315.6,389.6 L316.1,390.6 L316.6,391.5 L317.1,392.4 L317.6,393.3 L318.1,394.2 L318.6,395.0 L319.1,395.9 L319.6,396.8 L320.1,397.6 L320.6,398.4 L321.1,399.2 L321.6,400.1 L322.1,400.9 L322.6,401.6 L323.1,402.4 L323.6,403.2 L324.1,403.9 L324.6,404.6 L325.1,405.4 L325.6,406.1 L326.1,406.8 L326.6,407.4 L327.1,408.1 L327.6,408.7 L328.1,409.4 L328.6,410.0 L329.1,410.6 L329.6,411.2 L330.1,411.8 L330.6,412.4 L331.1,413.0 L331.6,413.5 L332.1,414.1 L332.6,414.6 L333.1,415.1 L333.6,415.6 L334.1,416.1 L334.6,416.6 L335.1,417.1 L335.6,417.5 L336.1,418.0 L336.6,418.4 L337.1,418.8 L337.6,419.2 L338.1,419.6 L338.6,420.0 L339.1,420.4" fill="none" stroke="#3f5fc0" stroke-width="0.8" stroke-linejoin="round"/>
<path d="M276.6,421.3 L277.1,421.2 L277.6,421.2 L278.1,421.1 L278.6,421.0 L279.1,420.9 L279.6,420.8 L280.1,420.7 L280.6,420.5 L281.1,420.3 L281.6,420.1 L282.1,419.9 L282.6,419.6 L283.1,419.3 L283.6,418.9 L284.1,418.5 L284.6,418.0 L285.1,417.5 L285.6,417.0 L286.1,416.3 L286.6,415.6 L287.1,414.9 L287.6,414.0 L288.1,413.1 L288.6,412.1 L289.1,411.0 L289.6,409.8 L290.1,408.6 L290.6,407.2 L291.1,405.8 L291.6,404.2 L292.1,402.6 L292.6,400.9 L293.1,399.0 L293.6,397.1 L294.1,395.1 L294.6,393.1 L295.1,390.9 L295.6,388.7 L296.1,386.4 L296.6,384.1 L297.1,381.7 L297.6,379.3 L298.1,376.8 L298.6,374.4 L299.1,372.0 L299.6,369.5 L300.1,367.1 L300.6,364.8 L301.1,362.5 L301.6,360.3 L302.1,358.2 L302.6,356.1 L303.1,354.2 L303.6,352.4 L304.1,350.8 L304.6,349.3 L305.1,347.9 L305.6,346.8 L306.1,345.8 L306.6,345.0 L307.1,344.4 L307.6,344.1 L308.1,343.9 L308.6,343.9 L309.1,344.2 L309.6,344.6 L310.1,345.2 L310.6,346.1 L311.1,347.1 L311.6,348.3 L312.1,349.7 L312.6,351.2 L313.1,352.9 L313.6,354.7 L314.1,356.7 L314.6,358.8 L315.1,361.0 L315.6,363.3 L316.1,365.6 L316.6,368.0 L317.1,370.5 L317.6,373.0 L318.1,375.6 L318.6,378.2 L319.1,380.7 L319.6,383.3 L320.1,385.8 L320.6,388.3 L321.1,390.7 L321.6,393.1 L322.1,395.5 L322.6,397.8 L323.1,400.0 L323.6,402.1 L324.1,404.1 L324.6,406.1 L325.1,408.0 L325.6,409.7 L326.1,411.4 L326.6,413.0 L327.1,414.5 L327.6,415.9 L328.1,417.2 L328.6,418.4 L329.1,419.6 L329.6,420.7 L330.1,421.7 L330.6,422.6 L331.1,423.4 L331.6,424.2 L332.1,424.9 L332.6,425.5 L333.1,426.1 L333.6,426.6 L334.1,427.1 L334.6,427.6 L335.1,428.0 L335.6,428.3 L336.1,428.6 L336.6,428.9 L337.1,429.1 L337.6,429.4 L338.1,429.6 L338.6,429.7 L339.1,429.9 L339.6,430.0 L340.1,430.1 L340.6,430.2 L341.1,430.3" fill="none" stroke="#e8402f" stroke-width="0.8" stroke-linejoin="round"/>
<path d="M191.1,417.7 L191.6,417.7 L192.1,417.7 L192.6,417.7 L193.1,417.7 L193.6,417.7 L194.1,417.7 L194.6,417.7 L195.1,417.7 L195.6,417.6 L196.1,417.6 L196.6,417.6 L197.1,417.6 L197.6,417.6 L198.1,417.6 L198.6,417.6 L199.1,417.6 L199.6,417.6 L200.1,417.6 L200.6,417.6 L201.1,417.6 L201.6,417.6 L202.1,417.6 L202.6,417.6 L203.1,417.6 L203.6,417.6 L204.1,417.6 L204.6,417.6 L205.1,417.6 L205.6,417.6 L206.1,417.6 L206.6,417.6 L207.1,417.6 L207.6,417.6 L208.1,417.6 L208.6,417.6 L209.1,417.6 L209.6,417.6 L210.1,417.6 L210.6,417.6 L211.1,417.6 L211.6,417.6 L212.1,417.6 L212.6,417.6 L213.1,417.6 L213.6,417.6 L214.1,417.7 L214.6,417.7 L215.1,417.7 L215.6,417.7 L216.1,417.7 L216.6,417.7 L217.1,417.7 L217.6,417.7 L218.1,417.8 L218.6,417.8 L219.1,417.8 L219.6,417.8 L220.1,417.8 L220.6,417.8 L221.1,417.8 L221.6,417.9 L222.1,417.9 L222.6,417.9 L223.1,417.9 L223.6,417.9 L224.1,418.0 L224.6,418.0 L225.1,418.0 L225.6,418.0 L226.1,418.0 L226.6,418.1 L227.1,418.1 L227.6,418.1 L228.1,418.1 L228.6,418.2 L229.1,418.2 L229.6,418.2 L230.1,418.2 L230.6,418.3 L231.1,418.3 L231.6,418.3 L232.1,418.3 L232.6,418.4 L233.1,418.4 L233.6,418.4 L234.1,418.4 L234.6,418.5 L235.1,418.5 L235.6,418.5 L236.1,418.5 L236.6,418.6 L237.1,418.6 L237.6,418.6 L238.1,418.6 L238.6,418.7 L239.1,418.7 L239.6,418.7 L240.1,418.8 L240.6,418.8 L241.1,418.8 L241.6,418.8 L242.1,418.9 L242.6,418.9 L243.1,418.9 L243.6,419.0 L244.1,419.0 L244.6,419.0 L245.1,419.0 L245.6,419.1 L246.1,419.1 L246.6,419.1 L247.1,419.2 L247.6,419.2 L248.1,419.2 L248.6,419.3 L249.1,419.3 L249.6,419.3 L250.1,419.4 L250.6,419.4 L251.1,419.4 L251.6,419.5 L252.1,419.5 L252.6,419.6 L253.1,419.6 L253.6,419.7 L254.1,419.7 L254.6,419.7 L255.1,419.8 L255.6,419.8 L256.1,419.9 L256.6,419.9 L257.1,420.0 L257.6,420.0 L258.1,420.1 L258.6,420.1 L259.1,420.2 L259.6,420.2 L260.1,420.2 L260.6,420.3 L261.1,420.3 L261.6,420.4 L262.1,420.4 L262.6,420.5 L263.1,420.5 L263.6,420.6 L264.1,420.6 L264.6,420.7 L265.1,420.7 L265.6,420.8 L266.1,420.8 L266.6,420.9 L267.1,420.9 L267.6,421.0 L268.1,421.0 L268.6,421.1 L269.1,421.1 L269.6,421.1 L270.1,421.2 L270.6,421.2 L271.1,421.3 L271.6,421.3 L272.1,421.4 L272.6,421.4 L273.1,421.5 L273.6,421.5 L274.1,421.5 L274.6,421.6 L275.1,421.6 L275.6,421.7 L276.1,421.7 L276.6,421.8 L277.1,421.8 L277.6,421.9 L278.1,421.9 L278.6,422.0 L279.1,422.1 L279.6,422.1 L280.1,422.2 L280.6,422.2 L281.1,422.3 L281.6,422.4 L282.1,422.5 L282.6,422.5 L283.1,422.6 L283.6,422.7 L284.1,422.8 L284.6,422.9 L285.1,423.0 L285.6,423.1 L286.1,423.2 L286.6,423.3 L287.1,423.4 L287.6,423.5 L288.1,423.6 L288.6,423.7 L289.1,423.8 L289.6,424.0 L290.1,424.1 L290.6,424.2 L291.1,424.3 L291.6,424.4 L292.1,424.5 L292.6,424.6 L293.1,424.8 L293.6,424.9 L294.1,425.0 L294.6,425.1 L295.1,425.2 L295.6,425.3 L296.1,425.4 L296.6,425.5 L297.1,425.6 L297.6,425.7 L298.1,425.9 L298.6,426.0 L299.1,426.1 L299.6,426.2 L300.1,426.3 L300.6,426.4 L301.1,426.5 L301.6,426.6 L302.1,426.8 L302.6,426.9 L303.1,427.0 L303.6,427.1 L304.1,427.2 L304.6,427.3 L305.1,427.4 L305.6,427.5 L306.1,427.6 L306.6,427.7 L307.1,427.8 L307.6,427.9 L308.1,428.0 L308.6,428.1 L309.1,428.2 L309.6,428.3 L310.1,428.4 L310.6,428.5 L311.1,428.6 L311.6,428.7 L312.1,428.8 L312.6,428.9 L313.1,428.9 L313.6,429.0 L314.1,429.1 L314.6,429.2 L315.1,429.3 L315.6,429.3 L316.1,429.4 L316.6,429.5 L317.1,429.5 L317.6,429.6 L318.1,429.7 L318.6,429.7 L319.1,429.8 L319.6,429.8 L320.1,429.9 L320.6,430.0 L321.1,430.0 L321.6,430.1 L322.1,430.1 L322.6,430.2 L323.1,430.2 L323.6,430.2 L324.1,430.3 L324.6,430.3 L325.1,430.3 L325.6,430.4 L326.1,430.4 L326.6,430.4 L327.1,430.5 L327.6,430.5 L328.1,430.5 L328.6,430.5 L329.1,430.6 L329.6,430.6 L330.1,430.6 L330.6,430.6 L331.1,430.6 L331.6,430.7 L332.1,430.7 L332.6,430.7 L333.1,430.7 L333.6,430.7 L334.1,430.7 L334.6,430.8 L335.1,430.8 L335.6,430.8 L336.1,430.8 L336.6,430.8 L337.1,430.8 L337.6,430.8 L338.1,430.8 L338.6,430.8 L339.1,430.8 L339.6,430.8 L340.1,430.8 L340.6,430.8 L341.1,430.8 L341.6,430.8 L342.1,430.8 L342.6,430.8 L343.1,430.8 L343.6,430.8 L344.1,430.8 L344.6,430.8 L345.1,430.8 L345.6,430.8 L346.1,430.8 L346.6,430.8 L347.1,430.8 L347.6,430.8 L348.1,430.8 L348.6,430.8 L349.1,430.8 L349.6,430.8 L350.1,430.8 L350.6,430.8 L351.1,430.8 L351.6,430.8 L352.1,430.8 L352.6,430.8 L353.1,430.8 L353.6,430.8 L354.1,430.8 L354.6,430.8 L355.1,430.8 L355.6,430.8 L356.1,430.8 L356.6,430.8 L357.1,430.8 L357.6,430.8 L358.1,430.8 L358.6,430.8 L359.1,430.8 L359.6,430.8 L360.1,430.8 L360.6,430.8 L361.1,430.8 L361.6,430.8 L362.1,430.8 L362.6,430.8 L363.1,430.8 L363.6,430.8 L364.1,430.8 L364.6,430.8 L365.1,430.8 L365.6,430.8 L366.1,430.8 L366.6,430.8 L367.1,430.8 L367.6,430.8 L368.1,430.8 L368.6,430.8 L369.1,430.8 L369.6,430.8 L370.1,430.8 L370.6,430.8 L371.1,430.8 L371.6,430.8 L372.1,430.8 L372.6,430.8 L373.1,430.8 L373.6,430.8" fill="none" stroke="#66cc44" stroke-width="0.8" stroke-linejoin="round"/>
<path d="M158.6,418.3 L159.1,418.3 L159.6,418.3 L160.1,418.2 L160.6,418.2 L161.1,418.2 L161.6,418.2 L162.1,418.2 L162.6,418.2 L163.1,418.2 L163.6,418.1 L164.1,418.1 L164.6,418.1 L165.1,418.1 L165.6,418.1 L166.1,418.1 L166.6,418.1 L167.1,418.0 L167.6,418.0 L168.1,418.0 L168.6,418.0 L169.1,418.0 L169.6,418.0 L170.1,418.0 L170.6,417.9 L171.1,417.9 L171.6,417.9 L172.1,417.9 L172.6,417.9 L173.1,417.9 L173.6,417.9 L174.1,417.8 L174.6,417.8 L175.1,417.8 L175.6,417.8 L176.1,417.8 L176.6,417.8 L177.1,417.8 L177.6,417.8 L178.1,417.7 L178.6,417.7 L179.1,417.7 L179.6,417.7 L180.1,417.7 L180.6,417.7 L181.1,417.7 L181.6,417.6 L182.1,417.6 L182.6,417.6 L183.1,417.6 L183.6,417.6 L184.1,417.6 L184.6,417.5 L185.1,417.5 L185.6,417.5 L186.1,417.5 L186.6,417.5 L187.1,417.4 L187.6,417.4 L188.1,417.4 L188.6,417.4 L189.1,417.4 L189.6,417.3 L190.1,417.3 L190.6,417.3 L191.1,417.2 L191.6,417.2 L192.1,417.2 L192.6,417.1 L193.1,417.1 L193.6,417.1 L194.1,417.0 L194.6,417.0 L195.1,416.9 L195.6,416.9 L196.1,416.8 L196.6,416.8 L197.1,416.7 L197.6,416.7 L198.1,416.6 L198.6,416.6 L199.1,416.5 L199.6,416.4 L200.1,416.4 L200.6,416.3 L201.1,416.2 L201.6,416.1 L202.1,416.0 L202.6,416.0 L203.1,415.9 L203.6,415.8 L204.1,415.7 L204.6,415.6 L205.1,415.5 L205.6,415.4 L206.1,415.2 L206.6,415.1 L207.1,415.0 L207.6,414.9 L208.1,414.7 L208.6,414.6 L209.1,414.4 L209.6,414.3 L210.1,414.1 L210.6,414.0 L211.1,413.8 L211.6,413.6 L212.1,413.4 L212.6,413.2 L213.1,413.0 L213.6,412.8 L214.1,412.6 L214.6,412.4 L215.1,412.2 L215.6,411.9 L216.1,411.7 L216.6,411.4 L217.1,411.2 L217.6,410.9 L218.1,410.6 L218.6,410.3 L219.1,410.1 L219.6,409.7 L220.1,409.4 L220.6,409.1 L221.1,408.8 L221.6,408.4 L222.1,408.1 L222.6,407.7 L223.1,407.3 L223.6,406.9 L224.1,406.5 L224.6,406.1 L225.1,405.7 L225.6,405.2 L226.1,404.8 L226.6,404.3 L227.1,403.8 L227.6,403.3 L228.1,402.8 L228.6,402.3 L229.1,401.8 L229.6,401.2 L230.1,400.7 L230.6,400.1 L231.1,399.5 L231.6,398.9 L232.1,398.3 L232.6,397.7 L233.1,397.1 L233.6,396.4 L234.1,395.8 L234.6,395.1 L235.1,394.4 L235.6,393.7 L236.1,393.0 L236.6,392.3 L237.1,391.5 L237.6,390.8 L238.1,390.0 L238.6,389.2 L239.1,388.4 L239.6,387.6 L240.1,386.8 L240.6,386.0 L241.1,385.1 L241.6,384.3 L242.1,383.4 L242.6,382.6 L243.1,381.7 L243.6,380.8 L244.1,379.9 L244.6,379.0 L245.1,378.1 L245.6,377.2 L246.1,376.2 L246.6,375.3 L247.1,374.4 L247.6,373.4 L248.1,372.5 L248.6,371.5 L249.1,370.6 L249.6,369.6 L250.1,368.7 L250.6,367.7 L251.1,366.8 L251.6,365.8 L252.1,364.9 L252.6,363.9 L253.1,362.9 L253.6,362.0 L254.1,361.0 L254.6,360.1 L255.1,359.2 L255.6,358.2 L256.1,357.3 L256.6,356.4 L257.1,355.5 L257.6,354.6 L258.1,353.7 L258.6,352.8 L259.1,351.9 L259.6,351.1 L260.1,350.2 L260.6,349.4 L261.1,348.5 L261.6,347.7 L262.1,346.9 L262.6,346.2 L263.1,345.4 L263.6,344.7 L264.1,343.9 L264.6,343.2 L265.1,342.5 L265.6,341.9 L266.1,341.2 L266.6,340.6 L267.1,340.0 L267.6,339.4 L268.1,338.9 L268.6,338.3 L269.1,337.8 L269.6,337.3 L270.1,336.8 L270.6,336.4 L271.1,336.0 L271.6,335.6 L272.1,335.2 L272.6,334.9 L273.1,334.6 L273.6,334.3 L274.1,334.0 L274.6,333.7 L275.1,333.5 L275.6,333.3 L276.1,333.1 L276.6,333.0 L277.1,332.9 L277.6,332.7 L278.1,332.6 L278.6,332.5 L279.1,332.5 L279.6,332.4 L280.1,332.3 L280.6,332.3 L281.1,332.2 L281.6,332.1 L282.1,332.0 L282.6,332.0 L283.1,331.9 L283.6,331.7 L284.1,331.6 L284.6,331.4 L285.1,331.3 L285.6,331.0 L286.1,330.8 L286.6,330.5 L287.1,330.1 L287.6,329.7 L288.1,329.2 L288.6,328.7 L289.1,328.1 L289.6,327.5 L290.1,326.7 L290.6,325.9 L291.1,325.1 L291.6,324.1 L292.1,323.1 L292.6,322.0 L293.1,320.9 L293.6,319.6 L294.1,318.3 L294.6,317.0 L295.1,315.5 L295.6,314.0 L296.1,312.5 L296.6,310.9 L297.1,309.3 L297.6,307.7 L298.1,306.1 L298.6,304.4 L299.1,302.8 L299.6,301.2 L300.1,299.7 L300.6,298.2 L301.1,296.8 L301.6,295.4 L302.1,294.2 L302.6,293.0 L303.1,292.0 L303.6,291.1 L304.1,290.4 L304.6,289.8 L305.1,289.3 L305.6,289.1 L306.1,289.0 L306.6,289.2 L307.1,289.5 L307.6,290.0 L308.1,290.8 L308.6,291.7 L309.1,292.9 L309.6,294.2 L310.1,295.8 L310.6,297.5 L311.1,299.4 L311.6,301.5 L312.1,303.8 L312.6,306.2 L313.1,308.8 L313.6,311.5 L314.1,314.4 L314.6,317.3 L315.1,320.4 L315.6,323.6 L316.1,326.8 L316.6,330.0 L317.1,333.4 L317.6,336.7 L318.1,340.1 L318.6,343.5 L319.1,346.8 L319.6,350.2 L320.1,353.5 L320.6,356.8 L321.1,360.0 L321.6,363.1 L322.1,366.2 L322.6,369.3 L323.1,372.2 L323.6,375.0 L324.1,377.8 L324.6,380.4 L325.1,383.0 L325.6,385.4 L326.1,387.8 L326.6,390.0 L327.1,392.1 L327.6,394.2 L328.1,396.1 L328.6,397.9 L329.1,399.7 L329.6,401.3 L330.1,402.9 L330.6,404.4 L331.1,405.7 L331.6,407.0 L332.1,408.3 L332.6,409.4 L333.1,410.5 L333.6,411.5 L334.1,412.5 L334.6,413.4 L335.1,414.3 L335.6,415.1 L336.1,415.8 L336.6,416.5 L337.1,417.2 L337.6,417.8 L338.1,418.4 L338.6,418.9 L339.1,419.4 L339.6,419.9 L340.1,420.4 L340.6,420.8 L341.1,421.3 L341.6,421.7 L342.1,422.0 L342.6,422.4 L343.1,422.7 L343.6,423.1 L344.1,423.4 L344.6,423.7 L345.1,424.0 L345.6,424.3 L346.1,424.5 L346.6,424.8 L347.1,425.0 L347.6,425.3 L348.1,425.5 L348.6,425.7 L349.1,425.9 L349.6,426.1 L350.1,426.3 L350.6,426.5 L351.1,426.7 L351.6,426.9 L352.1,427.0 L352.6,427.2 L353.1,427.3 L353.6,427.5 L354.1,427.6 L354.6,427.8 L355.1,427.9 L355.6,428.0 L356.1,428.1 L356.6,428.3 L357.1,428.4 L357.6,428.5 L358.1,428.6 L358.6,428.7 L359.1,428.8 L359.6,428.9 L360.1,429.0 L360.6,429.1 L361.1,429.1 L361.6,429.2 L362.1,429.3 L362.6,429.4 L363.1,429.4 L363.6,429.5 L364.1,429.6 L364.6,429.6 L365.1,429.7 L365.6,429.7 L366.1,429.8 L366.6,429.8 L367.1,429.9 L367.6,429.9 L368.1,430.0 L368.6,430.0 L369.1,430.1 L369.6,430.1 L370.1,430.1 L370.6,430.2 L371.1,430.2 L371.6,430.2 L372.1,430.3 L372.6,430.3 L373.1,430.3 L373.6,430.3 L374.1,430.4 L374.6,430.4 L375.1,430.4 L375.6,430.4 L376.1,430.5 L376.6,430.5 L377.1,430.5 L377.6,430.5 L378.1,430.5 L378.6,430.5 L379.1,430.6 L379.6,430.6 L380.1,430.6 L380.6,430.6 L381.1,430.6 L381.6,430.6 L382.1,430.6 L382.6,430.6 L383.1,430.6 L383.6,430.7 L384.1,430.7 L384.6,430.7 L385.1,430.7 L385.6,430.7 L386.1,430.7 L386.6,430.7 L387.1,430.7 L387.6,430.7 L388.1,430.7 L388.6,430.7 L389.1,430.7 L389.6,430.7 L390.1,430.7 L390.6,430.7 L391.1,430.7 L391.6,430.7 L392.1,430.8 L392.6,430.8 L393.1,430.8 L393.6,430.8 L394.1,430.8 L394.6,430.8 L395.1,430.8 L395.6,430.8 L396.1,430.8 L396.6,430.8 L397.1,430.8 L397.6,430.8 L398.1,430.8" fill="none" stroke="#ee2a7b" stroke-width="0.95" stroke-linejoin="round"/>
</g>
<line x1="176.0" y1="453.5" x2="176.0" y2="456.5" stroke="#555555" stroke-width="1"/>
<text x="176.0" y="469.2" font-size="9.6" text-anchor="middle" fill="#222" stroke="#222" stroke-width="0.1">536</text>
<line x1="210.2" y1="453.5" x2="210.2" y2="456.5" stroke="#555555" stroke-width="1"/>
<text x="210.2" y="469.2" font-size="9.6" text-anchor="middle" fill="#222" stroke="#222" stroke-width="0.1">534</text>
<line x1="244.4" y1="453.5" x2="244.4" y2="456.5" stroke="#555555" stroke-width="1"/>
<text x="244.4" y="469.2" font-size="9.6" text-anchor="middle" fill="#222" stroke="#222" stroke-width="0.1">532</text>
<line x1="278.6" y1="453.5" x2="278.6" y2="456.5" stroke="#555555" stroke-width="1"/>
<text x="278.6" y="469.2" font-size="9.6" text-anchor="middle" fill="#222" stroke="#222" stroke-width="0.1">530</text>
<line x1="312.8" y1="453.5" x2="312.8" y2="456.5" stroke="#555555" stroke-width="1"/>
<text x="312.8" y="469.2" font-size="9.6" text-anchor="middle" fill="#222" stroke="#222" stroke-width="0.1">528</text>
<line x1="347.0" y1="453.5" x2="347.0" y2="456.5" stroke="#555555" stroke-width="1"/>
<text x="347.0" y="469.2" font-size="9.6" text-anchor="middle" fill="#222" stroke="#222" stroke-width="0.1">526</text>
<line x1="381.2" y1="453.5" x2="381.2" y2="456.5" stroke="#555555" stroke-width="1"/>
<text x="381.2" y="469.2" font-size="9.6" text-anchor="middle" fill="#222" stroke="#222" stroke-width="0.1">524</text>
<line x1="158.9" y1="453.5" x2="158.9" y2="455.2" stroke="#555555" stroke-width="1"/>
<line x1="193.1" y1="453.5" x2="193.1" y2="455.2" stroke="#555555" stroke-width="1"/>
<line x1="227.3" y1="453.5" x2="227.3" y2="455.2" stroke="#555555" stroke-width="1"/>
<line x1="261.5" y1="453.5" x2="261.5" y2="455.2" stroke="#555555" stroke-width="1"/>
<line x1="295.7" y1="453.5" x2="295.7" y2="455.2" stroke="#555555" stroke-width="1"/>
<line x1="329.9" y1="453.5" x2="329.9" y2="455.2" stroke="#555555" stroke-width="1"/>
<line x1="364.1" y1="453.5" x2="364.1" y2="455.2" stroke="#555555" stroke-width="1"/>
<line x1="398.3" y1="453.5" x2="398.3" y2="455.2" stroke="#555555" stroke-width="1"/>
<rect x="163.6" y="273.0" width="103.6" height="57.3" fill="#000"/>
<rect x="161.2" y="270.6" width="103.6" height="57.3" fill="#fff" stroke="#333" stroke-width="0.8"/>
<line x1="163" y1="276.4" x2="176.8" y2="276.4" stroke="#666" stroke-width="0.7"/>
<text x="180.0" y="278.7" font-size="9.0" fill="#2a2a2a" stroke="#2a2a2a" stroke-width="0.2">XPS O 1s</text>
<line x1="163" y1="288.1" x2="176.8" y2="288.1" stroke="#e8402f" stroke-width="0.7"/>
<text x="180.0" y="291.0" font-size="9.0" fill="#2a2a2a" stroke="#2a2a2a" stroke-width="0.12">1<tspan dy="-4.7" font-size="7.1">st</tspan><tspan dy="4.7"> component</tspan></text>
<line x1="163" y1="300.4" x2="176.8" y2="300.4" stroke="#3f5fc0" stroke-width="0.7"/>
<text x="180.0" y="303.3" font-size="9.0" fill="#2a2a2a" stroke="#2a2a2a" stroke-width="0.12">2<tspan dy="-4.7" font-size="7.1">nd</tspan><tspan dy="4.7"> component</tspan></text>
<line x1="163" y1="310.8" x2="176.8" y2="310.8" stroke="#66cc44" stroke-width="0.7"/>
<text x="180.0" y="313.7" font-size="9.0" fill="#2a2a2a" stroke="#2a2a2a" stroke-width="0.12">Base line</text>
<line x1="163" y1="321.4" x2="176.8" y2="321.4" stroke="#ee2a7b" stroke-width="0.7"/>
<text x="180.0" y="324.3" font-size="9.0" fill="#2a2a2a" stroke="#2a2a2a" stroke-width="0.12">Sum of all components</text>
<text x="279" y="488" font-size="10.5" font-weight="bold" text-anchor="middle" fill="#111" xml:space="preserve" style="white-space:pre">Binding Energy  (eV)</text>
<text transform="translate(146.5,361.6) rotate(-90)" font-size="10.6" font-weight="bold" text-anchor="middle" fill="#111">Counts per second (CPS)</text>
<text x="137" y="267.2" font-family="'Liberation Sans', sans-serif" font-size="16" font-weight="bold" fill="#111">c</text>
</svg>
</body></html>
